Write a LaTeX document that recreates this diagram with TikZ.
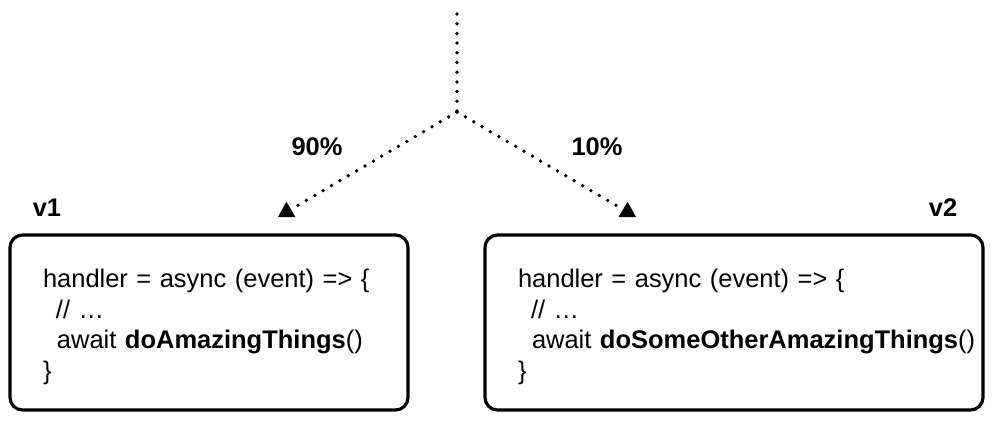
\documentclass[tikz,border=0pt]{standalone}
\usepackage{fontspec}
\setmainfont{Liberation Sans}
\usetikzlibrary{arrows.meta}
\begin{document}
\begin{tikzpicture}[
    pontilhado/.style={line width=0.075cm, line cap=round, dash pattern=on 0pt off 0.194cm},
    seta/.style={pontilhado, -{Triangle[length=0.3cm, width=0.36cm, line width=0pt]}},
    rotulo/.style={font=\fontsize{14.5}{17.6}\selectfont\bfseries},
    codigo/.style={draw, line width=1.8pt, rounded corners=0.25cm, minimum height=3.5cm,
        inner xsep=0.66cm, align=left, font=\fontsize{14.5}{17.6}\selectfont}
  ]
    \useasboundingbox (0,0) rectangle (20,8.48);

    % Divisão do tráfego
    \coordinate (topo) at (9.14,8.2);
    \coordinate (garfo) at (9.14,6.24);
    \coordinate (ponta1) at (5.56,4.14);
    \coordinate (ponta2) at (12.72,4.14);
    \draw[pontilhado] (topo) -- (garfo);
    \draw[seta] (garfo) -- (ponta1);
    \draw[seta] (garfo) -- (ponta2);
    \node[rotulo] (pct1) at (6.34,5.54) {90\%};
    \node[rotulo] (pct2) at (11.94,5.54) {10\%};

    % Versões
    \node[codigo, text width=6.64cm] (v1box) at (4.18,2.03)
        {\rule{0pt}{15.5pt}handler = async (event) => \{\\
         \hspace*{0.26cm}// …\\
         \hspace*{0.28cm}\mbox{await \textbf{doAmazingThings}()}\\
         \}};
    \node[codigo, text width=8.64cm] (v2box) at (14.68,2.03)
        {\rule{0pt}{15.5pt}handler = async (event) => \{\\
         \hspace*{0.26cm}// …\\
         \hspace*{0.28cm}\mbox{await \textbf{doSomeOtherAmazingThings}()}\\
         \}};
    \node[rotulo] (v1) at (0.94,4.32) {v1};
    \node[rotulo] (v2) at (18.86,4.32) {v2};
\end{tikzpicture}
\end{document}
